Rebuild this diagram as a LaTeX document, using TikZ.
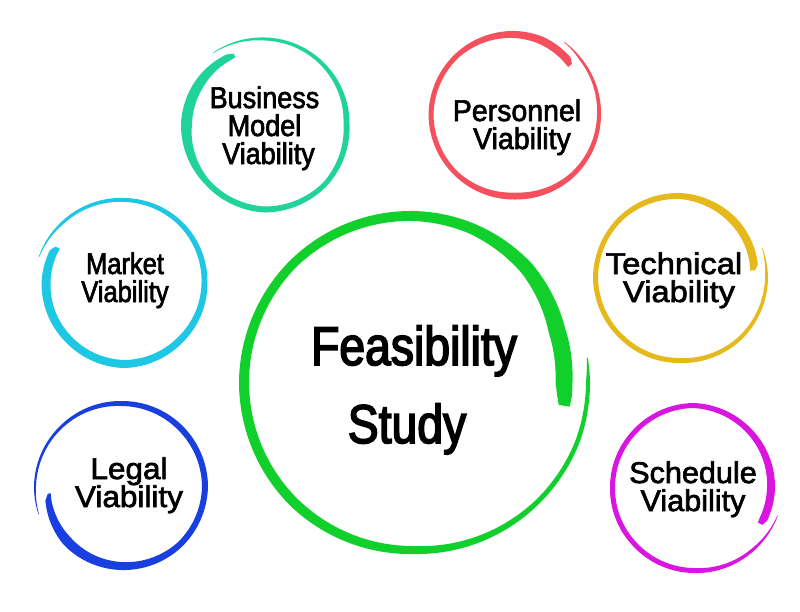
\documentclass[tikz,border=0pt]{standalone}
\usepackage{fontspec}
\newfontfamily\fBiz[FakeStretch=0.90,FakeBold=2.2]{Liberation Sans}
\newfontfamily\fPers[FakeStretch=0.95,FakeBold=2.2]{Liberation Sans}
\newfontfamily\fMark[FakeStretch=0.85,FakeBold=2.2]{Liberation Sans}
\newfontfamily\fLegal[FakeStretch=1.05,FakeBold=2.2]{Liberation Sans}
\newfontfamily\fTech[FakeStretch=1.09,FakeBold=2.2]{Liberation Sans}
\newfontfamily\fSched[FakeStretch=1.02,FakeBold=2.2]{Liberation Sans}
\newfontfamily\fTitle[FakeStretch=0.85,FakeBold=3]{Liberation Sans}
\definecolor{mainGreen}{HTML}{12D02C}
\definecolor{bizTeal}{HTML}{1FD39A}
\definecolor{persRed}{HTML}{F4505E}
\definecolor{markCyan}{HTML}{1EC8E4}
\definecolor{legalBlue}{HTML}{1A3FE0}
\definecolor{techYellow}{HTML}{E5B91C}
\definecolor{schedMag}{HTML}{D916E0}
\newcommand{\addringpoint}[5]{% cx cy ang rad wid
  \pgfmathsetmacro\xout{#1+(#4+#5/2)*cos(#3)}%
  \pgfmathsetmacro\yout{#2-(#4+#5/2)*sin(#3)}%
  \pgfmathsetmacro\xinn{#1+(#4-#5/2)*cos(#3)}%
  \pgfmathsetmacro\yinn{#2-(#4-#5/2)*sin(#3)}%
  \xdef\outerpts{\outerpts (\xout,\yout)}%
  \xdef\innerpts{(\xinn,\yinn) \innerpts}%
}
\newcommand{\brushring}[4]{%
  \gdef\outerpts{}\gdef\innerpts{}\gdef\prevang{}%
  \foreach \angv/\radv/\widv in {#4}{%
    \ifx\prevang\empty
      \addringpoint{#1}{#2}{\angv}{\radv}{\widv}%
    \else
      \pgfmathtruncatemacro\nsteps{max(1,ceil((\angv-\prevang)/3))}%
      \foreach \kv in {1,...,\nsteps}{%
        \pgfmathsetmacro\fracv{\kv/\nsteps}%
        \pgfmathsetmacro\ca{\prevang+(\angv-\prevang)*\fracv}%
        \pgfmathsetmacro\cr{\prevrad+(\radv-\prevrad)*\fracv}%
        \pgfmathsetmacro\cw{\prevwid+(\widv-\prevwid)*\fracv}%
        \addringpoint{#1}{#2}{\ca}{\cr}{\cw}%
      }%
    \fi
    \xdef\prevang{\angv}\xdef\prevrad{\radv}\xdef\prevwid{\widv}%
  }%
  \fill[#3] plot[smooth,tension=0.5] coordinates {\outerpts} -- plot[smooth,tension=0.5] coordinates {\innerpts} -- cycle;
}
\tikzset{
  smalllabel/.style={font=#1\fontsize{30}{28}\selectfont,align=center,inner sep=0pt,text=black,anchor=base},
  biglabel/.style={font=\fTitle\fontsize{54.5}{78}\selectfont,align=center,inner sep=0pt,text=black,anchor=base}
}
\begin{document}
\begin{tikzpicture}[x=1pt,y=-1pt]
\useasboundingbox (0,0) rectangle (800,611);
\fill[white] (0,0) rectangle (800,611);
% main ring
\brushring{414}{382}{mainGreen}{-9/152/11,-5/151/15,0/150/17,20/152/17,45/160/14,70/164/11,90/166/10,135/169/9,180/170/10,225/170/10,270/168/8,315/172/5,340/174/4.5,360/174/4,368/175/1}
% business
\brushring{265}{124}{bizTeal}{114/75/4,119/76/7,150/77/10,180/78.5/11,225/82/6,270/85.5/6,315/85/5,360/81.5/6,405/83/4,450/85/3,486/88/0.6}
% personnel
\brushring{515}{115}{persRed}{42/74/5,46/76/8,70/79/8,90/80.5/7,135/83/5,180/84/5,225/83/5,270/81/7,315/83/5,360/84/4,400/86/2.5,416/88/0.5}
% market
\brushring{124}{283}{markCyan}{152/75/5,156/77/8,180/78/9,225/79/8,270/81/8,315/80/7,360/80.5/6,405/82/5,450/83/4,495/86/3,523/89/0.6}
% legal
\brushring{121}{486}{legalBlue}{186/72/3,191/74/6,225/77/10,270/80/8,315/83/6,360/84/6,405/83/6,450/82.5/5,495/84/3,540/86/2,559/87/0.5}
% technical
\brushring{680}{278}{techYellow}{6/73/5,10/75/8,45/78/8,70/80/7,90/82/6,135/84/5,180/84.5/5,225/83/5,270/82.5/5,315/85/4,360/86.5/3,380/87.5/0.5}
% schedule
\brushring{693}{488}{schedMag}{-28/76/5,-24/77/8,0/78/8,45/80/6,90/82.5/5,135/81/5,180/80.5/5,225/81/5,270/82.5/5,315/86/3,342/89/0.5}
% labels
\node[biglabel] (feasibility) at (414,443) {Feasibility\\Study\hspace*{14pt}};
\node[smalllabel=\fBiz] (business) at (264.5,164) {Business\\Model\\\hspace*{8pt}Viability};
\node[smalllabel=\fPers] (personnel) at (519.5,149) {Personnel\hspace*{5pt}\\\hspace*{5pt}Viability};
\node[smalllabel=\fMark] (market) at (125,302) {Market\\Viability};
\node[smalllabel=\fLegal] (legal) at (129,507) {Legal\\Viability};
\node[smalllabel=\fTech] (technical) at (676.5,302) {Technical\hspace*{5pt}\\\hspace*{5pt}Viability};
\node[smalllabel=\fSched] (schedule) at (693,511) {Schedule\\Viability};
\end{tikzpicture}
\end{document}
